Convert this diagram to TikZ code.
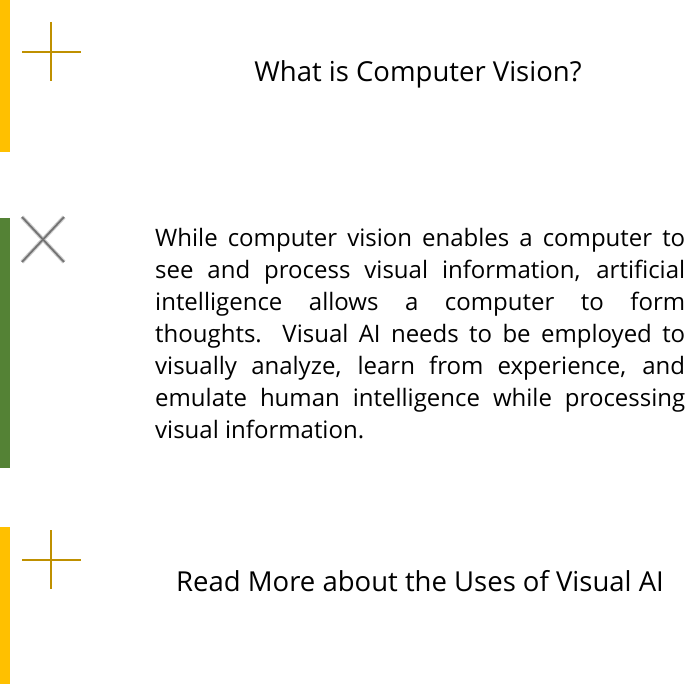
\documentclass[tikz,border=0pt]{standalone}
\usepackage{fontspec}
\setmainfont{Open Sans}
\definecolor{barY}{RGB}{255,192,0}
\definecolor{barG}{RGB}{84,130,53}
\definecolor{plusC}{RGB}{191,144,0}
\tikzset{
  bar/.style={fill=#1,draw=none},
  plusmark/.style={plusC,line width=2.2pt},
  head/.style={font=\fontsize{27.5}{32}\selectfont,anchor=center},
}
\begin{document}
\begin{tikzpicture}[x=1pt,y=-1pt]
    \useasboundingbox (0,0) rectangle (700,684);
    % bars on the left
    \fill [bar=barY] (0,0) rectangle (10,152);
    \fill [bar=barG] (0,218) rectangle (10,468);
    \fill [bar=barY] (0,527) rectangle (10,684);

    % plus and cross marks
    \foreach \y in {52,560} {
        \draw [plusmark] (22,\y) -- (81,\y);
        \draw [plusmark] (51,\y-30) -- (51,\y+29);
    }
    \draw [gray!40,line width=4pt] (22,217) -- (64,262) (64,217) -- (22,262);
    \draw [gray!90!black,line width=1.8pt] (22,217) -- (64,262) (64,217) -- (22,262);

    % texts
    \node [head] (title) at (418,74) {What is Computer Vision?};
    \node [anchor=north west,inner sep=0pt,text width=530pt,align=justify,
           font=\fontsize{24}{32}\selectfont] (body) at (155,228)
        {While computer vision enables a computer to\linebreak
         see and process visual information, artificial\linebreak
         intelligence allows a computer to form\linebreak
         thoughts. Visual AI needs to be employed to\linebreak
         visually analyze, learn from experience, and\linebreak
         emulate human intelligence while processing\linebreak
         visual information.};
    \node [head] (more) at (420,581) {Read More about the Uses of Visual AI};
\end{tikzpicture}
\end{document}
